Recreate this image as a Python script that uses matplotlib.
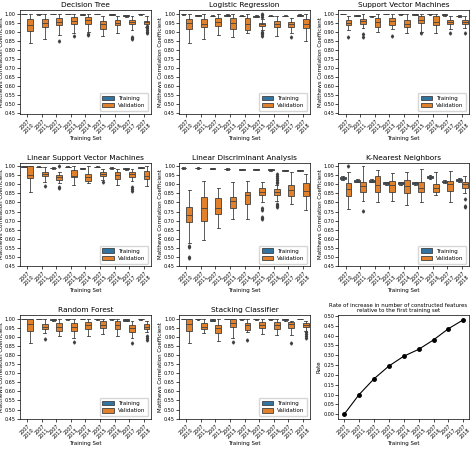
import matplotlib
matplotlib.use("Agg")
import matplotlib.pyplot as plt
from matplotlib.patches import Patch

# Data
train_sets = ["2007\n2010", "2007\n2011", "2007\n2012", "2007\n2013", "2007\n2014",
              "2007\n2015", "2007\n2016", "2007\n2017", "2007\n2018"]
rate = [0.0, 0.10, 0.18, 0.245, 0.295, 0.33, 0.378, 0.435, 0.48]

# box stats per training set: (whisker low, q1, median, q3, whisker high)
dt_tr = [(1.0, 1.0, 1.0, 1.0, 1.0), (0.993, 0.996, 0.998, 1.0, 1.0), (1.0, 1.0, 1.0, 1.0, 1.0),
         (1.0, 1.0, 1.0, 1.0, 1.0), (0.99, 0.994, 0.997, 1.0, 1.0), (0.997, 0.998, 0.999, 1.0, 1.0),
         (0.99, 0.993, 0.995, 0.997, 1.0), (0.983, 0.986, 0.988, 0.99, 0.993), (0.993, 0.996, 0.998, 1.0, 1.0)]
dt_val = [(0.84, 0.904, 0.935, 0.972, 1.0), (0.86, 0.925, 0.95, 0.97, 1.0), (0.88, 0.935, 0.955, 0.975, 1.0),
          (0.895, 0.94, 0.96, 0.98, 1.0), (0.90, 0.945, 0.965, 0.98, 1.0), (0.875, 0.915, 0.945, 0.96, 0.985),
          (0.89, 0.935, 0.95, 0.965, 0.985), (0.91, 0.94, 0.955, 0.965, 0.985), (0.925, 0.945, 0.955, 0.96, 0.985)]
dt_fl = [[], [], [0.85], [0.875], [0.885, 0.88], [], [], [0.87, 0.865, 0.86], [0.93, 0.92, 0.91, 0.90, 0.89]]

lr_tr = [(0.993, 0.996, 0.997, 0.999, 1.0), (0.986, 0.988, 0.99, 0.992, 0.994), (0.984, 0.986, 0.987, 0.988, 0.99),
         (0.986, 0.988, 0.99, 0.992, 0.995), (0.984, 0.986, 0.987, 0.988, 0.99), (0.98, 0.983, 0.985, 0.987, 0.99),
         (0.985, 0.987, 0.988, 0.989, 0.991), (0.984, 0.986, 0.987, 0.988, 0.99), (0.986, 0.988, 0.99, 0.992, 0.995)]
lr_val = [(0.84, 0.915, 0.95, 0.97, 1.0), (0.86, 0.925, 0.945, 0.97, 1.0), (0.88, 0.93, 0.955, 0.975, 1.0),
          (0.87, 0.915, 0.95, 0.975, 1.0), (0.89, 0.91, 0.945, 0.975, 1.0), (0.91, 0.93, 0.94, 0.95, 0.97),
          (0.875, 0.925, 0.94, 0.96, 0.985), (0.895, 0.925, 0.94, 0.955, 0.975), (0.85, 0.92, 0.945, 0.97, 1.0)]
lr_fl = [[], [], [], [], [], [1.0, 0.99, 0.98, 0.90, 0.895, 0.885, 0.875], [], [0.87], []]

svm_tr = [(1.0, 1.0, 1.0, 1.0, 1.0), (0.985, 0.987, 0.988, 0.99, 0.992), (0.982, 0.984, 0.985, 0.987, 0.989),
          (0.996, 0.997, 0.998, 0.999, 1.0), (0.994, 0.996, 0.998, 1.0, 1.0), (0.99, 0.993, 0.995, 0.997, 1.0),
          (0.994, 0.996, 0.998, 1.0, 1.0), (0.989, 0.991, 0.993, 0.995, 0.997), (0.982, 0.985, 0.987, 0.989, 0.992)]
svm_val = [(0.91, 0.935, 0.95, 0.965, 0.985), (0.92, 0.945, 0.96, 0.97, 1.0), (0.90, 0.925, 0.955, 0.975, 1.0),
           (0.915, 0.935, 0.96, 0.975, 1.0), (0.89, 0.925, 0.945, 0.965, 1.0), (0.90, 0.95, 0.965, 0.985, 1.0),
           (0.89, 0.935, 0.955, 0.985, 1.0), (0.915, 0.94, 0.955, 0.965, 0.985), (0.92, 0.94, 0.955, 0.965, 0.985)]
svm_fl = [[0.87], [0.885, 0.87], [], [0.875], [], [0.89], [], [0.895], [0.89]]

lsvm_tr = [(0.995, 0.997, 0.998, 0.999, 1.0), (0.994, 0.996, 0.997, 0.998, 1.0), (0.984, 0.988, 0.99, 0.992, 0.996),
           (0.994, 0.996, 0.997, 0.998, 1.0), (0.984, 0.986, 0.988, 0.99, 0.992), (0.994, 0.996, 0.997, 0.998, 1.0),
           (0.986, 0.988, 0.99, 0.992, 0.994), (0.978, 0.982, 0.985, 0.988, 0.992), (0.988, 0.99, 0.992, 0.994, 0.996)]
lsvm_val = [(0.86, 0.935, 0.95, 1.0, 1.0), (0.915, 0.945, 0.955, 0.97, 0.995), (0.905, 0.925, 0.94, 0.95, 0.965),
            (0.895, 0.94, 0.945, 0.98, 1.0), (0.905, 0.92, 0.94, 0.955, 1.0), (0.925, 0.945, 0.955, 0.965, 0.985),
            (0.895, 0.93, 0.95, 0.965, 0.985), (0.92, 0.94, 0.955, 0.965, 0.985), (0.89, 0.93, 0.945, 0.975, 1.0)]
lsvm_fl = [[], [0.89], [1.0, 0.885, 0.88], [], [], [0.915], [], [0.885, 0.875, 0.865], []]

lda_tr = [(0.986, 0.988, 0.99, 0.992, 0.994), (0.986, 0.988, 0.99, 0.991, 0.993), (0.983, 0.985, 0.987, 0.989, 0.991),
          (0.981, 0.983, 0.985, 0.987, 0.989), (0.979, 0.981, 0.983, 0.985, 0.987), (0.979, 0.981, 0.983, 0.985, 0.987),
          (0.976, 0.978, 0.98, 0.982, 0.984), (0.974, 0.976, 0.977, 0.978, 0.98), (0.974, 0.976, 0.977, 0.978, 0.98)]
lda_val = [(0.577, 0.694, 0.732, 0.774, 0.869), (0.592, 0.696, 0.769, 0.832, 0.918), (0.661, 0.736, 0.769, 0.823, 0.882),
           (0.709, 0.77, 0.809, 0.83, 0.913), (0.71, 0.79, 0.842, 0.86, 0.92), (0.80, 0.842, 0.86, 0.878, 0.913),
           (0.81, 0.84, 0.86, 0.875, 0.895), (0.792, 0.838, 0.869, 0.896, 0.97), (0.76, 0.838, 0.865, 0.905, 0.956)]
lda_fl = [[0.56, 0.555, 0.50, 0.495], [], [], [], [], [0.77, 0.76, 0.72, 0.715, 0.71],
          [0.955, 0.945, 0.935, 0.925, 0.915, 0.905, 0.79, 0.785, 0.78, 0.775], [], []]

knn_tr = [(0.925, 0.93, 0.935, 0.94, 0.945), (0.91, 0.915, 0.92, 0.925, 0.93), (0.91, 0.915, 0.92, 0.925, 0.93),
          (0.895, 0.90, 0.905, 0.91, 0.915), (0.895, 0.90, 0.905, 0.91, 0.915), (0.895, 0.90, 0.905, 0.91, 0.915),
          (0.93, 0.935, 0.94, 0.945, 0.95), (0.905, 0.91, 0.915, 0.92, 0.925), (0.915, 0.92, 0.925, 0.93, 0.935)]
knn_val = [(0.763, 0.838, 0.873, 0.905, 0.969), (0.81, 0.86, 0.89, 0.91, 1.0), (0.805, 0.856, 0.896, 0.947, 0.98),
           (0.81, 0.86, 0.895, 0.92, 0.96), (0.785, 0.85, 0.89, 0.925, 0.965), (0.805, 0.86, 0.88, 0.915, 0.985),
           (0.84, 0.855, 0.88, 0.90, 0.97), (0.805, 0.865, 0.90, 0.92, 0.975), (0.85, 0.88, 0.90, 0.91, 0.945)]
knn_fl = [[1.0], [0.755], [], [], [], [], [], [], [0.82, 0.78, 0.775]]

rf_tr = [(1.0, 1.0, 1.0, 1.0, 1.0), (1.0, 1.0, 1.0, 1.0, 1.0), (0.988, 0.992, 0.995, 0.998, 1.0),
         (0.995, 0.997, 0.998, 1.0, 1.0), (1.0, 1.0, 1.0, 1.0, 1.0), (0.994, 0.996, 0.998, 1.0, 1.0),
         (0.995, 0.997, 0.998, 1.0, 1.0), (0.985, 0.99, 0.995, 0.998, 1.0), (0.995, 0.997, 0.998, 1.0, 1.0)]
rf_val = [(0.865, 0.935, 0.97, 1.0, 1.0), (0.92, 0.945, 0.955, 0.97, 1.0), (0.905, 0.935, 0.955, 0.975, 1.0),
          (0.895, 0.935, 0.955, 0.975, 1.0), (0.905, 0.945, 0.965, 0.98, 1.0), (0.915, 0.95, 0.965, 0.985, 1.0),
          (0.905, 0.945, 0.965, 0.985, 1.0), (0.895, 0.925, 0.95, 0.965, 0.985), (0.925, 0.945, 0.955, 0.97, 0.99)]
rf_fl = [[], [0.89], [], [0.87], [], [], [], [0.865], [0.905, 0.895, 0.885]]

st_tr = [(1.0, 1.0, 1.0, 1.0, 1.0), (0.995, 0.997, 0.998, 1.0, 1.0), (0.985, 0.99, 0.993, 0.997, 1.0),
         (1.0, 1.0, 1.0, 1.0, 1.0), (0.994, 0.996, 0.998, 1.0, 1.0), (0.995, 0.997, 0.998, 1.0, 1.0),
         (0.995, 0.997, 0.998, 1.0, 1.0), (0.99, 0.994, 0.997, 1.0, 1.0), (1.0, 1.0, 1.0, 1.0, 1.0)]
st_val = [(0.865, 0.935, 0.97, 1.0, 1.0), (0.92, 0.945, 0.955, 0.975, 1.0), (0.875, 0.92, 0.95, 0.965, 1.0),
          (0.895, 0.955, 0.975, 1.0, 1.0), (0.925, 0.94, 0.965, 0.975, 1.0), (0.915, 0.95, 0.965, 0.98, 1.0),
          (0.91, 0.945, 0.965, 0.98, 1.0), (0.91, 0.95, 0.97, 0.98, 0.99), (0.93, 0.955, 0.965, 0.975, 0.99)]
st_fl = [[], [], [], [0.87], [0.885], [], [], [0.865], [0.925, 0.915, 0.905, 0.895]]

titles = ["Decision Tree", "Logistic Regression", "Support Vector Machines",
          "Linear Support Vector Machines", "Linear Discriminant Analysis", "K-Nearest Neighbors",
          "Random Forest", "Stacking Classifier"]
models = [(dt_tr, dt_val, dt_fl), (lr_tr, lr_val, lr_fl), (svm_tr, svm_val, svm_fl),
          (lsvm_tr, lsvm_val, lsvm_fl), (lda_tr, lda_val, lda_fl), (knn_tr, knn_val, knn_fl),
          (rf_tr, rf_val, rf_fl), (st_tr, st_val, st_fl)]

blue = "#3274a1"
orange = "#e1812c"
gray = "#404040"
fs = 4


def stats(rows, fliers=None):
    out = []
    for i, (lo, q1, med, q3, hi) in enumerate(rows):
        out.append({"whislo": lo, "q1": q1, "med": med, "q3": q3, "whishi": hi,
                    "fliers": fliers[i] if fliers else []})
    return out


def draw(ax, stat_list, pos, color):
    ax.bxp(stat_list, positions=pos, widths=0.4, patch_artist=True,
           boxprops=dict(facecolor=color, edgecolor=gray, linewidth=0.6),
           medianprops=dict(color=gray, linewidth=0.6),
           whiskerprops=dict(color=gray, linewidth=0.6),
           capprops=dict(color=gray, linewidth=0.6),
           flierprops=dict(marker="d", markersize=1.6, markerfacecolor=gray,
                           markeredgecolor=gray, linestyle="none"),
           manage_ticks=False)


fig, axes = plt.subplots(3, 3, figsize=(4.74, 4.5), dpi=100)
plt.subplots_adjust(left=0.042, right=0.99, top=0.978, bottom=0.069, wspace=0.215, hspace=0.47)

x = list(range(len(train_sets)))
for ax, title, (tr, val, fl) in zip(axes.flat, titles, models):
    draw(ax, stats(tr), [i - 0.2 for i in x], blue)
    draw(ax, stats(val, fl), [i + 0.2 for i in x], orange)
    ax.set_xlim(-0.5, len(train_sets) - 0.5)
    ax.set_ylim(0.448, 1.02)
    ax.set_yticks([0.45 + 0.05 * k for k in range(12)])
    ax.set_yticklabels([f"{0.45 + 0.05 * k:.2f}" for k in range(12)])
    ax.set_xticks(x)
    ax.set_xticklabels(train_sets, rotation=45)
    ax.set_title(title, fontsize=5.3, pad=2)
    ax.set_ylabel("Matthews Correlation Coefficient", fontsize=fs, labelpad=0.5)
    ax.set_xlabel("Training Set", fontsize=fs, labelpad=1)
    ax.legend(handles=[Patch(facecolor=blue, edgecolor=gray, linewidth=0.6, label="Training"),
                       Patch(facecolor=orange, edgecolor=gray, linewidth=0.6, label="Validation")],
              loc="lower right", fontsize=fs, handlelength=2, handleheight=0.8, borderpad=0.5,
              labelspacing=0.4)

# rate plot
ax = axes[2, 2]
ax.plot(x, rate, color="black", marker="o", markersize=2.5, linewidth=0.8)
ax.set_xticks(x)
ax.set_xticklabels(train_sets, rotation=45)
ax.set_yticks([0.05 * k for k in range(11)])
ax.set_yticklabels([f"{0.05 * k:.2f}" for k in range(11)])
ax.set_title("Rate of increase in number of constructed features\nrelative to the first training set",
             fontsize=3.9, pad=2, linespacing=1.0, x=0.46)
ax.set_ylabel("Rate", fontsize=fs, labelpad=1)
ax.set_xlabel("Training Set", fontsize=fs, labelpad=1)

for ax in axes.flat:
    ax.tick_params(labelsize=3.5, length=2, width=0.5, pad=1)
    for s in ax.spines.values():
        s.set_linewidth(0.5)

fig.savefig("out.png", dpi=100)
